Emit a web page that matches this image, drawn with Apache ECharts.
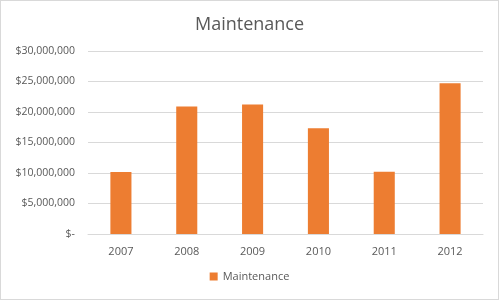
<!DOCTYPE html>
<html><head><meta charset="utf-8">
<script src="https://cdn.jsdelivr.net/npm/echarts@6/dist/echarts.min.js"></script>
<style>html,body{margin:0;padding:0;background:#fff}#c{width:499px;height:300px;box-sizing:border-box;border:1px solid #d9d9d9}</style>
</head><body><div id="c"></div>
<script>
var categories = ['2007','2008','2009','2010','2011','2012'];
var maintenance = [10150000, 20900000, 21250000, 17350000, 10200000, 24700000];
var yTicks = [0, 5000000, 10000000, 15000000, 20000000, 25000000, 30000000];

var chart = echarts.init(document.getElementById('c'));
chart.setOption({
  animation: false,
  textStyle: {fontFamily: 'Open Sans, Liberation Sans, sans-serif'},
  title: {text: 'Maintenance', left: 'center', top: 10,
    textStyle: {fontSize: 18, fontWeight: 'normal', color: '#595959', fontFamily: 'Open Sans, sans-serif'}},
  legend: {data: ['Maintenance'], bottom: 12, left: 'center', itemWidth: 8, itemHeight: 8, icon: 'rect',
    textStyle: {fontSize: 11, color: '#595959'}},
  grid: {left: 87, right: 15, top: 50, bottom: 65},
  xAxis: {type: 'category', data: categories,
    axisLine: {lineStyle: {color: '#d9d9d9'}}, axisTick: {show: false},
    axisLabel: {fontSize: 11, color: '#595959', margin: 12}},
  yAxis: {type: 'value', min: yTicks[0], max: yTicks[yTicks.length-1], interval: 5000000,
    axisLine: {show: false}, axisTick: {show: false},
    splitLine: {lineStyle: {color: '#d9d9d9'}},
    axisLabel: {fontSize: 10.5, color: '#595959', margin: 13,
      formatter: function(v){ return v === 0 ? '$-' : '$' + v.toLocaleString('en-US'); }}},
  series: [{name: 'Maintenance', type: 'bar', data: maintenance, barWidth: '32%',
    itemStyle: {color: '#ed7d31'}}]
});
</script></body></html>
